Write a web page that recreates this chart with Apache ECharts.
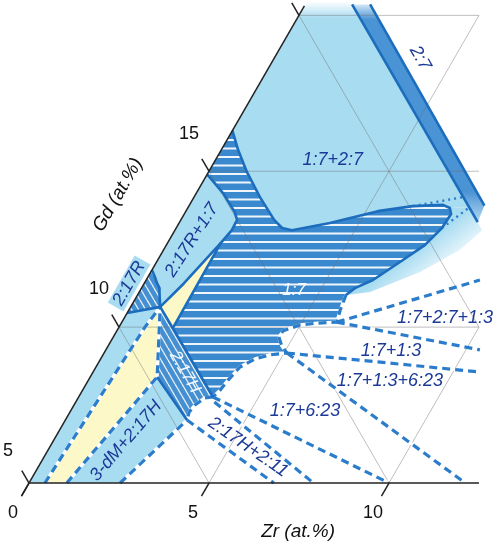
<!DOCTYPE html>
<html>
<head>
<meta charset="utf-8">
<title>Co-Gd-Zr section</title>
<script src="https://cdn.jsdelivr.net/npm/echarts@6/dist/echarts.min.js"></script>
<style>
  html, body { margin: 0; padding: 0; background: #fff; }
  #chart { width: 495px; height: 550px; }
</style>
</head>
<body>
<div id="chart"></div>
<script>
  // every point is [Zr, Gd] in at.%, Co is the balance
  const zrTicks = [0, 5, 10];
  const zrTickLabels = ['0', '5', '10'];
  const gdTicks = [5, 10, 15, 20];
  const gdTickLabels = ['5', '10', '15'];
  const zrEnd = 12.5;   // right end of the Gd = 5 base line
  const gdEnd = 20.3;   // top end of the Zr = 0 edge

  const gridLines = [
    [[0, 10], [10, 10]], [[0, 15], [7.5, 15]], [[0, 20], [5, 20]],
    [[5, 5], [5, 20]], [[10, 5], [10, 10]],
    [[5, 5], [0, 10]], [[10, 5], [0, 15]], [[10, 10], [0, 20]]
  ];

  // 1:7 single phase field (hatched)
  const phase17 = [
    [0, 16.3], [0.47, 15.68], [1.07, 14.97], [1.83, 14.17], [2.59, 13.44], [2.94, 13.18],
    [3.25, 13.11], [4.19, 13.34], [5.33, 13.72], [6.22, 13.88], [7.04, 13.92], [7.28, 13.82],
    [7.41, 13.63], [7.38, 13.18], [7.18, 12.63], [6.76, 12.09], [6.30, 11.51], [5.93, 11.25],
    [5.79, 11.03], [5.87, 10.55], [5.97, 10.16], [5.46, 10.13], [4.99, 10.07], [4.62, 9.88],
    [4.60, 9.68], [4.83, 9.39], [5.08, 9.17], [4.64, 9.11], [4.29, 8.98], [4.00, 8.72],
    [3.88, 8.30], [3.82, 7.98], [3.73, 7.76], [1.51, 9.97], [1.48, 12.70], [1.58, 13.11],
    [1.56, 13.44], [1.37, 13.69], [0.74, 14.30], [0, 14.9]
  ];
  const phase217H = [
    [0.82, 10.65], [1.51, 9.97], [3.73, 7.76], [3.52, 7.73], [3.36, 7.50], [3.31, 7.28],
    [3.38, 7.02], [1.86, 8.40]
  ];
  const phase217R = [
    [0, 10.45], [0.82, 10.65], [0.6, 11.05], [0.5, 11.25], [0.35, 11.41], [0.2, 11.6], [0, 11.83]
  ];
  const stripLine = [[0.82, 10.65], [1.1, 11.4], [1.48, 12.70]];
  const yellowBand = [[0.44, 5], [0.72, 10], [0.82, 10.65], [1.86, 8.40], [1.05, 5]];
  const yellowWedge = [[0.82, 10.65], [1.1, 11.4], [1.48, 12.70], [1.51, 9.97]];

  const dashed1 = [[0.44, 5], [0.72, 10], [0.82, 10.65]];
  const dashed2 = [[1.05, 5], [1.86, 8.40], [0.82, 10.65]];
  const dashed3 = [[2.53, 5], [3.38, 7.02]];

  const tieLines = [
    [[5.97, 10.16], [9.27, 11.51]],
    [[5.97, 10.16], [10.39, 9.27]],
    [[5.08, 9.17], [10.75, 8.56]],
    [[5.08, 9.17], [12.12, 5]],
    [[3.73, 7.76], [10, 5]],
    [[3.85, 7.6], [7.9, 5]],
    [[3.38, 7.02], [6.8, 5]]
  ];
  const dotLines = [
    [[6.22, 13.88], [7.47, 14.17]],
    [[7.38, 13.18], [7.82, 13.85]]
  ];

  // 2:7 compound band, Zr+Gd ~ 21.65 .. 22.1
  const band27Lo = [[1.3, 20.35], [8.28, 13.37]];
  const band27Hi = [[1.8, 20.35], [8.2, 13.9]];
  const fadeEdge = [[7.82, 13.85], [8.28, 13.37], [8.53, 13.11], [8.23, 12.47], [7.48, 11.77], [6.41, 11.13]];

  const regionLabels = [
    ['2:7', 4.05, 18.63],
    ['1:7+2:7', 3.26, 15.36],
    ['1:7', 4.27, 11.19],
    ['1:7+2:7+1:3', 8.91, 10.29],
    ['1:7+1:3', 7.94, 9.23],
    ['1:7+1:3+6:23', 8.39, 8.27],
    ['1:7+6:23', 6.51, 7.31],
    ['2:17H+2:11', 5.51, 6.15],
    ['3-dM+2:17H', 2.02, 6.35],
    ['2:17H', 2.55, 8.56],
    ['2:17R', -0.42, 11.4],
    ['2:17R+1:7', 0.63, 12.79]
  ];
  const axisTitles = [['Zr (at.%)', 8.26, 3.43], ['Gd (at.%)', -2.15, 14.24]];

  // ---- styles / layout ----
  const LB = '#a8dcf1', MID = '#3a88cd', BAND = '#4a93d4', DARK = '#1c6dbd';
  const DASH = '#2b7dcb', YEL = '#fdf8c8', TXT = '#1b3a97', GRID = 'rgba(110,110,110,0.45)';
  const labelRot = { '2:7': -1.05, '2:17H+2:11': -0.6, '3-dM+2:17H': 0.86, '2:17H': -1.05, '2:17R': 1.05, '2:17R+1:7': 1.0 };
  const whiteLabels = { '1:7': 1, '2:17H': 1 };
  const gdLabelOffset = [[-16, -32], [-10, -38], [-10, -37]];
  const PX = 36, ORIGIN = [29, 483], W = 495, H = 550;

  const SQ = Math.sqrt(3) / 2;
  const toXY = p => [p[0] + p[1] / 2, p[1] * SQ];
  const at = (api, list) => list.map(p => api.coord(toXY(p)));

  function stripes() {
    const c = document.createElement('canvas');
    c.width = 8; c.height = 17;
    const g = c.getContext('2d');
    g.fillStyle = MID; g.fillRect(0, 0, 8, 17);
    g.fillStyle = 'rgba(255,255,255,0.92)';
    g.fillRect(0, 3, 8, 2); g.fillRect(0, 11.5, 8, 2);
    return c;
  }
  function slants() {
    const c = document.createElement('canvas');
    c.width = 7; c.height = 12;
    const g = c.getContext('2d');
    g.fillStyle = '#4690d2'; g.fillRect(0, 0, 7, 12);
    g.strokeStyle = 'rgba(255,255,255,0.85)'; g.lineWidth = 1.3;
    for (const dx of [-7, 0, 7]) { g.beginPath(); g.moveTo(dx, 0); g.lineTo(dx + 7, 12); g.stroke(); }
    return c;
  }
  const hatchH = { image: stripes(), repeat: 'repeat' };
  const hatchD = { image: slants(), repeat: 'repeat' };

  function poly(list, fill) {
    return api => ({ type: 'polygon', shape: { points: at(api, list) }, style: { fill: fill } });
  }
  function line(list, stroke, width, dash) {
    return api => ({
      type: 'polyline', shape: { points: at(api, list) },
      style: { stroke: stroke, lineWidth: width, lineDash: dash || null, fill: null, lineCap: 'butt', lineJoin: 'round' }
    });
  }
  function text(str, p, o) {
    return api => {
      const c = api.coord(toXY(p));
      return {
        type: 'text', x: c[0] + (o.dx || 0), y: c[1] + (o.dy || 0), rotation: o.rot || 0,
        style: {
          text: str, fill: o.color, font: o.font,
          align: o.align || 'center', textAlign: o.align || 'center',
          verticalAlign: 'middle', textVerticalAlign: 'middle',
          backgroundColor: o.bg || null, padding: o.pad || 0
        }
      };
    };
  }

  const lbOutline = [[0, 5], dashed3[0]]
    .concat(phase217H.slice(2, 7).reverse())
    .concat(phase17.slice(11, 33).reverse())
    .concat([fadeEdge[0], band27Lo[0], [1.2, 20.45], [0, 20.45]]);
  const fadeOutline = fadeEdge.concat(phase17.slice(11, 19).reverse());
  const bandOutline = [band27Lo[0], band27Hi[0], band27Hi[1], band27Lo[1]];

  const lbFill = new echarts.graphic.LinearGradient(0, 0, 0, 1, [
    { offset: 0, color: '#ffffff' }, { offset: 0.035, color: LB }, { offset: 1, color: LB }
  ]);
  const fadeFill = new echarts.graphic.LinearGradient(0.4, 0.62, 0.58, 0.98, [
    { offset: 0, color: LB }, { offset: 1, color: '#ffffff' }
  ]);
  const bandFill = new echarts.graphic.LinearGradient(0, 0, 0, 1, [
    { offset: 0, color: '#d2e6f6' }, { offset: 0.07, color: BAND }, { offset: 0.86, color: BAND }, { offset: 1, color: '#b5d9f0' }
  ]);

  const b = [];
  b.push(poly(lbOutline, lbFill));
  b.push(poly(fadeOutline, fadeFill));
  b.push(poly(bandOutline, bandFill));
  b.push(poly(yellowBand, YEL));
  b.push(poly(yellowWedge, YEL));
  b.push(poly(phase17, hatchH));
  b.push(poly(phase217H, hatchD));
  b.push(poly(phase217R, hatchD));
  gridLines.forEach(l => b.push(line(l, GRID, 1)));

  const dashedSets = [dashed1, dashed2, dashed3, phase17.slice(18, 33), phase217H.slice(2, 7)].concat(tieLines);
  dashedSets.forEach(l => b.push(line(l, '#ffffff', 3.2)));
  dashedSets.forEach(l => b.push(line(l, DASH, 3.2, [8, 5])));
  dotLines.forEach(l => b.push(line(l, DASH, 2.4, [2, 4])));

  [phase17.slice(0, 19), phase17.slice(32), phase217H.slice(0, 2), [phase217H[7], phase217H[6]],
    stripLine, phase217R, band27Lo, band27Hi].forEach(l => b.push(line(l, DARK, 2.6)));

  // phase field labels (below the frame so the 2:17R box does not hide the edge)
  regionLabels.forEach(r => {
    const white = whiteLabels[r[0]];
    b.push(text(r[0], [r[1], r[2]], {
      color: white ? 'rgba(255,255,255,0.95)' : TXT,
      font: 'italic ' + (white ? 17 : 18) + 'px "Liberation Sans", Arial, sans-serif',
      rot: labelRot[r[0]] || 0,
      bg: r[0] === '2:17R' ? LB : null, pad: r[0] === '2:17R' ? [0, 3] : 0
    }));
  });

  // frame and ticks
  b.push(line([[0, 4.58], [0, gdEnd]], '#222', 1.5));
  b.push(line([[0, 5], [zrEnd, 5]], '#222', 1.5));
  zrTicks.forEach(z => b.push(line([[z, 5], [z, 4.58]], '#222', 1.5)));
  gdTicks.forEach(g => b.push(line([[0, g], [-0.4, g + 0.4]], '#222', 1.5)));

  const tickFont = '18px "Liberation Sans", Arial, sans-serif';
  zrTicks.forEach((z, i) => b.push(text(zrTickLabels[i], [z, 5], { dx: -16, dy: 30, color: '#111', font: tickFont })));
  gdTickLabels.forEach((t, i) => b.push(text(t, [0, gdTicks[i]],
    { dx: gdLabelOffset[i][0], dy: gdLabelOffset[i][1], color: '#111', font: tickFont, align: 'right' })));
  b.push(text(axisTitles[0][0], [axisTitles[0][1], axisTitles[0][2]],
    { color: '#111', font: 'italic 19px "Liberation Sans", Arial, sans-serif' }));
  b.push(text(axisTitles[1][0], [axisTitles[1][1], axisTitles[1][2]],
    { color: '#111', font: 'italic 19px "Liberation Sans", Arial, sans-serif', rot: Math.PI / 3 }));

  const o = toXY([0, 5]);
  const xMin = o[0] - ORIGIN[0] / PX, yMin = o[1] - (H - ORIGIN[1]) / PX;

  const chart = echarts.init(document.getElementById('chart'));
  chart.setOption({
    animation: false,
    grid: { left: 0, right: 0, top: 0, bottom: 0 },
    xAxis: { type: 'value', min: xMin, max: xMin + W / PX, show: false },
    yAxis: { type: 'value', min: yMin, max: yMin + H / PX, show: false },
    series: [{
      type: 'custom',
      coordinateSystem: 'cartesian2d',
      silent: true,
      clip: false,
      data: b.map(() => [5, 5]),
      renderItem: (params, api) => {
        const el = b[params.dataIndex](api);
        el.z2 = params.dataIndex;
        return el;
      }
    }]
  });
</script>
</body>
</html>
